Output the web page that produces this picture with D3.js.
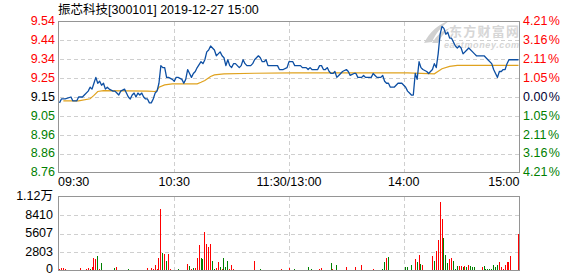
<!DOCTYPE html>
<html>
<head>
<meta charset="utf-8">
<script src="https://cdn.jsdelivr.net/npm/d3@7"></script>
<style>
  body { margin: 0; background: #fff; }
  text { font-family: "Liberation Sans", Arial, "Noto Sans CJK SC", sans-serif; }
</style>
</head>
<body>
<script>
// chart data
var title = "振芯科技[300101] 2019-12-27 15:00";
var prevClose = 9.15;

var priceTicks = ["9.54", "9.44", "9.34", "9.25", "9.15", "9.05", "8.96", "8.86", "8.76"];
var pctTicks = ["4.21", "3.16", "2.11", "1.05", "0.00", "1.05", "2.11", "3.16", "4.21"];
var volTicks = ["1.12万", "8410", "5607", "2803", "0"];
var timeLabels = ["09:30", "10:30", "11:30/13:00", "14:00", "15:00"];
var timeMinutes = [0, 60, 120, 180, 240];

// minute index (0..240) and last price
var priceMin = [0, 1, 3, 6, 7, 9, 10, 12, 13, 15, 16, 17, 18, 19, 20, 21, 22, 23, 24, 25, 26, 28, 29, 30,
  31, 32, 34, 35, 36, 37, 38, 39, 40, 41, 42, 43, 44, 45, 46, 47, 48, 49, 50, 51, 52, 53, 54, 55, 56, 57,
  59, 60, 61, 62, 64, 65, 66, 67, 68, 69, 70, 71, 72, 74, 75, 76, 77, 78, 79, 81, 82, 83, 84, 85, 86, 87,
  88, 89, 90, 91, 92, 94, 95, 96, 97, 98, 100, 101, 102, 104, 105, 106, 107, 108, 109, 111, 114, 115, 117,
  119, 120, 122, 123, 126, 127, 129, 130, 131, 132, 135, 136, 137, 138, 139, 140, 141, 142, 143, 144, 145,
  146, 148, 150, 151, 152, 154, 155, 156, 158, 159, 160, 161, 163, 164, 165, 166, 168, 169, 170, 171, 172,
  173, 175, 176, 177, 179, 180, 181, 182, 183, 184, 185, 186, 187, 188, 189, 190, 192, 193, 195, 196, 197,
  198, 199, 200, 201, 202, 203, 204, 205, 207, 208, 209, 210, 211, 213, 214, 216, 217, 218, 220, 222, 223,
  224, 226, 227, 228, 229, 230, 231, 232, 233, 234, 235, 236, 240];
var priceVal = [9.12, 9.14, 9.14, 9.15, 9.13, 9.13, 9.15, 9.15, 9.16, 9.18, 9.20, 9.19, 9.22, 9.25, 9.22, 9.23,
  9.21, 9.22, 9.19, 9.20, 9.19, 9.18, 9.18, 9.17, 9.16, 9.18, 9.19, 9.17, 9.15, 9.14, 9.16, 9.17, 9.15, 9.17,
  9.16, 9.17, 9.15, 9.14, 9.14, 9.12, 9.12, 9.14, 9.17, 9.18, 9.22, 9.31, 9.30, 9.30, 9.25, 9.25,
  9.24, 9.23, 9.25, 9.25, 9.24, 9.22, 9.24, 9.29, 9.27, 9.25, 9.27, 9.28, 9.30, 9.33, 9.32, 9.34, 9.38, 9.39,
  9.41, 9.39, 9.36, 9.37, 9.38, 9.36, 9.35, 9.31, 9.34, 9.31, 9.30, 9.32, 9.32, 9.30, 9.31, 9.34, 9.32, 9.31,
  9.31, 9.32, 9.34, 9.36, 9.35, 9.33, 9.33, 9.34, 9.31, 9.31, 9.31, 9.29, 9.29, 9.30, 9.33, 9.33, 9.31, 9.31,
  9.30, 9.30, 9.29, 9.30, 9.29, 9.29, 9.31, 9.31, 9.29, 9.29, 9.30, 9.28, 9.27, 9.27, 9.28, 9.25, 9.26, 9.28,
  9.29, 9.28, 9.26, 9.27, 9.27, 9.25, 9.25, 9.26, 9.25, 9.25, 9.25, 9.27, 9.26, 9.25, 9.25, 9.26, 9.23, 9.22,
  9.22, 9.20, 9.20, 9.21, 9.22, 9.22, 9.21, 9.20, 9.18, 9.17, 9.16, 9.16, 9.27, 9.24, 9.33, 9.30, 9.29, 9.28,
  9.27, 9.29, 9.32, 9.30, 9.37, 9.47, 9.51, 9.50, 9.47, 9.48, 9.45, 9.45, 9.41, 9.40, 9.41, 9.40, 9.37, 9.39,
  9.40, 9.38, 9.37, 9.36, 9.36, 9.36, 9.35, 9.34, 9.32, 9.29, 9.27, 9.25, 9.28, 9.28, 9.29, 9.29, 9.32, 9.34,
  9.34, 9.34];

// average price line
var avgMin = [2, 10, 16, 18, 20, 23, 46, 50, 51, 52, 55, 59, 72, 74, 76, 79, 81, 86, 102, 122, 182, 196, 200, 204, 208, 240];
var avgVal = [9.130, 9.130, 9.141, 9.158, 9.178, 9.182, 9.180, 9.178, 9.183, 9.200, 9.212, 9.217, 9.217, 9.225,
  9.234, 9.255, 9.263, 9.268, 9.271, 9.273, 9.273, 9.268, 9.294, 9.306, 9.311, 9.311];

// volume per minute and up/down flag (u = red, d = green)
var volumes = [
  300, 400, 400, 250, 150, 100, 100, 100, 100, 100,
  100, 400, 100, 120, 250, 400, 300, 600, 1900, 1750,
  2250, 200, 1200, 100, 100, 100, 100, 100, 150, 400,
  600, 100, 120, 100, 100, 100, 250, 100, 100, 100,
  100, 100, 100, 100, 100, 100, 400, 150, 400, 200,
  800, 200, 1900, 9290, 2650, 2500, 1450, 2550, 250, 150,
  100, 150, 250, 150, 100, 100, 120, 1000, 700, 250,
  400, 400, 1900, 3790, 1900, 1750, 5800, 3940, 3540, 3940,
  1400, 250, 400, 1250, 600, 250, 1900, 600, 1400, 250,
  800, 200, 100, 100, 120, 100, 100, 150, 100, 100,
  100, 120, 1400, 100, 100, 250, 100, 100, 120, 100,
  100, 100, 120, 100, 100, 100, 300, 100, 100, 100,
  400, 120, 100, 200, 100, 100, 100, 100, 100, 100,
  600, 100, 300, 100, 100, 100, 300, 400, 150, 100,
  100, 100, 1100, 300, 100, 800, 100, 100, 100, 100,
  500, 100, 100, 100, 100, 600, 100, 100, 800, 100,
  100, 100, 100, 100, 300, 100, 100, 100, 100, 300,
  1250, 1870, 2020, 100, 100, 100, 100, 100, 100, 100,
  100, 500, 500, 100, 900, 100, 1770, 1260, 2420, 1000,
  900, 100, 100, 100, 100, 2170, 1500, 2930, 4550, 10350,
  7830, 4900, 2320, 1100, 1670, 1870, 1500, 250, 700, 650,
  650, 500, 650, 500, 800, 650, 500, 500, 150, 150,
  150, 500, 650, 250, 300, 300, 300, 900, 500, 800,
  1250, 500, 250, 800, 1250, 1250, 2170, 150, 0, 0,
  5550];
var volDir =
  "uuuuudduuu" + "uuduuuduuu" + "dudddududd" + "uuuuuddduu" +
  "duuudduuuu" + "uuuududuuu" + "duduuuuudu" + "duuudduuuu" +
  "dduududddu" + "uuuduuduud" + "uuuudduuud" + "uduuuduuuu" +
  "uuuduuuuuu" + "duduuuuudu" + "uuduuduuuu" + "udduuuduuu" +
  "uuuuudduud" + "duduuuuuuu" + "udddduudud" + "udddduduuu" +
  "uddduudddu" + "udududdddu" + "uudddddddd" + "uuuuuuuuuu" + "u";

// geometry
var width = 578, height = 276;
var left = 59.5, right = 518.5;
var pTop = 21.5, pBottom = 172.5;
var vTop = 196.5, vBottom = 270.5;

var svg = d3.select("body").append("svg")
    .attr("width", width)
    .attr("height", height);

// scales
var x = d3.scaleLinear().domain([0, 240]).range([left, right]);
var yPrice = d3.scaleLinear().domain([8.765, 9.535]).range([pBottom, pTop]);
var yVol = d3.scaleLinear().domain([0, 11213]).range([vBottom, vTop]);

var red = "#ff0000", green = "#008000", gridColor = "#cfcfcf";

// title
svg.append("text")
    .attr("x", 58)
    .attr("y", 14)
    .style("font-size", "12.5px")
    .attr("fill", "#000")
    .text(title);

// watermark
var wm = svg.append("g").attr("fill", "#d6d6d6");
wm.append("path")
    .attr("d", "M424,43 C430,32 438,24 449,21 C441,27 436,33 432,42 Z M432,43 C437,35 443,30 450,28 C444,33 440,38 438,43 Z")
    .attr("fill", "#d0d0d0");
wm.append("text")
    .attr("x", 449)
    .attr("y", 35.5)
    .style("font-size", "13px")
    .style("font-weight", "bold")
    .attr("textLength", 70)
    .text("东方财富网");
wm.append("text")
    .attr("x", 444)
    .attr("y", 47.5)
    .style("font-size", "9px")
    .style("font-weight", "bold")
    .style("font-style", "italic")
    .attr("textLength", 75)
    .text("eastmoney.com");

// dashed grid lines
var grid = svg.append("g")
    .attr("stroke", gridColor)
    .attr("stroke-dasharray", "4,3")
    .attr("shape-rendering", "crispEdges");

var pStep = (pBottom - pTop) / (priceTicks.length - 1);
priceTicks.forEach(function(d, i) {
  if (i === 0 || i === priceTicks.length - 1) return;
  var y = Math.round(pTop + i * pStep) + 0.5;
  grid.append("line").attr("x1", left).attr("x2", right + 1).attr("y1", y).attr("y2", y);
});
var vStep = (vBottom - vTop) / (volTicks.length - 1);
volTicks.forEach(function(d, i) {
  if (i === 0 || i === volTicks.length - 1) return;
  var y = Math.round(vTop + i * vStep) + 0.5;
  grid.append("line").attr("x1", left).attr("x2", right + 1).attr("y1", y).attr("y2", y);
});
timeMinutes.slice(1, -1).forEach(function(m) {
  var gx = Math.round(x(m)) + 0.5;
  grid.append("line").attr("x1", gx).attr("x2", gx).attr("y1", pTop).attr("y2", pBottom);
  grid.append("line").attr("x1", gx).attr("x2", gx).attr("y1", vTop).attr("y2", vBottom);
});

// volume bars
svg.append("g")
    .attr("shape-rendering", "crispEdges")
    .selectAll("rect")
    .data(volumes)
    .enter().append("rect")
    .attr("x", function(d, i) { return Math.floor(x(i)); })
    .attr("width", 1)
    .attr("y", function(d) { return Math.round(yVol(d)); })
    .attr("height", function(d) { return Math.round(yVol(0)) - Math.round(yVol(d)); })
    .attr("fill", function(d, i) { return volDir[i] === "d" ? green : red; });

// average price line
var avgPts = avgMin.map(function(m, i) { return [m, avgVal[i]]; });
svg.append("path")
    .datum(avgPts)
    .attr("fill", "none")
    .attr("stroke", "#e0a21e")
    .attr("stroke-width", 1.2)
    .attr("d", d3.line()
        .x(function(d) { return x(d[0]); })
        .y(function(d) { return yPrice(d[1]); }));

// price line
var pricePts = priceMin.map(function(m, i) { return [m, priceVal[i]]; });
svg.append("path")
    .datum(pricePts)
    .attr("fill", "none")
    .attr("stroke", "#0d4fa3")
    .attr("stroke-width", 1.3)
    .attr("stroke-linejoin", "round")
    .attr("d", d3.line()
        .x(function(d) { return x(d[0]); })
        .y(function(d) { return yPrice(d[1]); }));

// panel borders
var frame = svg.append("g")
    .attr("fill", "none")
    .attr("stroke", "#959595")
    .attr("shape-rendering", "crispEdges");
frame.append("rect").attr("x", 58.5).attr("y", pTop).attr("width", right + 1 - 58.5).attr("height", pBottom - pTop);
frame.append("rect").attr("x", 58.5).attr("y", vTop).attr("width", right + 1 - 58.5).attr("height", vBottom - vTop);

// left price labels
var mid = (priceTicks.length - 1) / 2;
svg.append("g").selectAll("text")
    .data(priceTicks)
    .enter().append("text")
    .attr("x", 55)
    .attr("y", function(d, i) { return pTop + i * pStep; })
    .attr("dy", "0.3em")
    .attr("text-anchor", "end")
    .style("font-size", "12.5px")
    .attr("fill", function(d, i) { return i < mid ? red : (i > mid ? green : "#000"); })
    .text(function(d) { return d; });

// right percent labels
var pct = svg.append("g").selectAll("text")
    .data(pctTicks)
    .enter().append("text")
    .attr("x", 523)
    .attr("y", function(d, i) { return pTop + i * pStep; })
    .attr("dy", "0.3em")
    .style("font-size", "12.5px")
    .attr("fill", function(d, i) { return i < mid ? red : (i > mid ? green : "#000033"); });
pct.append("tspan").text(function(d) { return d; });
pct.append("tspan").attr("dx", 1.5).text("%");

// volume labels
svg.append("g").selectAll("text")
    .data(volTicks)
    .enter().append("text")
    .attr("x", 53)
    .attr("y", function(d, i) { return vTop + i * vStep - (i === volTicks.length - 1 ? 1 : 0); })
    .attr("dy", "0.3em")
    .attr("text-anchor", "end")
    .style("font-size", "12.5px")
    .attr("fill", "#000")
    .text(function(d) { return d; });

// time labels
svg.append("g").selectAll("text")
    .data(timeLabels)
    .enter().append("text")
    .attr("x", function(d, i) { return i === 0 ? 58 : (i === timeLabels.length - 1 ? 519.5 : x(timeMinutes[i])); })
    .attr("y", 186)
    .attr("text-anchor", function(d, i) { return i === 0 ? "start" : (i === timeLabels.length - 1 ? "end" : "middle"); })
    .style("font-size", "12.5px")
    .attr("fill", "#000")
    .text(function(d) { return d; });
</script>
</body>
</html>
